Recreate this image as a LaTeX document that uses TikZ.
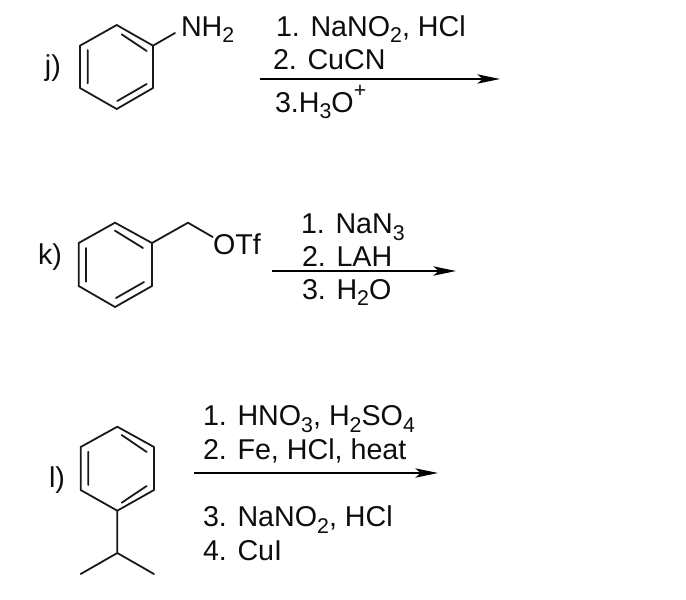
\documentclass[tikz,border=0pt]{standalone}
\usepackage{fontspec}
\setmainfont{Liberation Sans}
\usetikzlibrary{arrows.meta}
\newcommand{\sbs}[1]{\raisebox{-0.23em}{\fontsize{16}{16}\selectfont #1}}
\newcommand{\sps}[1]{\raisebox{0.5em}{\fontsize{16}{16}\selectfont #1}}
\tikzset{
  bond/.style={line width=1.35pt,line cap=round,line join=round,black!90},
  rxn/.style={line width=1.1pt,black,-{Stealth[length=17pt,width=7pt,inset=4pt]},shorten >=0pt},
  chem/.style={anchor=base west,inner sep=0pt,outer sep=0pt,font=\fontsize{21.5}{24}\selectfont,text=black!95}
}
\begin{document}
\begin{tikzpicture}[x=0.75pt,y=-0.75pt]
\useasboundingbox (0,0) rectangle (686,600);
% ring j
\coordinate (j1) at (116.7,25);
\coordinate (j2) at (153,45.7);
\coordinate (j3) at (153,88);
\coordinate (j4) at (116.7,109);
\coordinate (j5) at (80,88);
\coordinate (j6) at (80,45.7);
\coordinate (ja) at (87.7,50);
\coordinate (jb) at (87.7,83.3);
\coordinate (jc) at (121.7,34.3);
\coordinate (jd) at (146.7,51);
\coordinate (je) at (117.3,101);
\coordinate (jf) at (146.7,84);
\coordinate (jn) at (175,33);
\draw[bond] (j1)--(j2)--(j3)--(j4)--(j5)--(j6)--cycle;
\draw[bond] (ja)--(jb) (jc)--(jd) (je)--(jf) (j2)--(jn);
% ring k
\coordinate (k1) at (115,222.7);
\coordinate (k2) at (152,243);
\coordinate (k3) at (152,286);
\coordinate (k4) at (115,307);
\coordinate (k5) at (78.7,286);
\coordinate (k6) at (78.7,243);
\coordinate (ka) at (86,248);
\coordinate (kb) at (86,281.7);
\coordinate (kc) at (115,230.7);
\coordinate (kd) at (143,248);
\coordinate (ke) at (116,298);
\coordinate (kf) at (144,282);
\coordinate (kg) at (188,222.7);
\coordinate (kh) at (212.7,237);
\draw[bond] (k1)--(k2)--(k3)--(k4)--(k5)--(k6)--cycle;
\draw[bond] (ka)--(kb) (kc)--(kd) (ke)--(kf) (k2)--(kg)--(kh);
% ring l
\coordinate (l1) at (117.3,426.7);
\coordinate (l2) at (154,447);
\coordinate (l3) at (154,490);
\coordinate (l4) at (117.3,510.7);
\coordinate (l5) at (80.7,490);
\coordinate (l6) at (80.7,447);
\coordinate (la) at (88.3,451.7);
\coordinate (lb) at (88.3,485);
\coordinate (lc) at (121.7,435);
\coordinate (ld) at (146.7,452);
\coordinate (le) at (121.7,502.7);
\coordinate (lf) at (146.7,486);
\coordinate (lg) at (117.3,553);
\coordinate (lh) at (80.7,574);
\coordinate (li) at (154,574);
\draw[bond] (l1)--(l2)--(l3)--(l4)--(l5)--(l6)--cycle;
\draw[bond] (la)--(lb) (lc)--(ld) (le)--(lf) (l4)--(lg)--(lh) (lg)--(li);
% arrows
\coordinate (as) at (260,79);
\coordinate (ae) at (500,79);
\coordinate (bs) at (272,271);
\coordinate (be) at (456,271);
\coordinate (cs) at (194,473);
\coordinate (ce) at (438,473);
\draw[rxn] (as)--(ae);
\draw[rxn] (bs)--(be);
\draw[rxn] (cs)--(ce);
% labels
\node[chem] (lj) at (45,75) {j)};
\node[chem] (lk) at (38,264) {k)};
\node[chem] (ll) at (49,487) {l)};
\node[chem] (nh) at (181,36) {NH\sbs{2}};
\node[chem] (otf) at (213,254) {OTf};
\node[chem] (r1) at (276,36) {1. NaNO\sbs{2}, HCl};
\node[chem] (r2) at (273,69) {2. CuCN};
\node[chem] (r3) at (275,112) {3.H\sbs{3}O\sps{+}};
\node[chem] (r4) at (301,233.5) {1. NaN\sbs{3}};
\node[chem] (r5) at (302,266) {2. LAH};
\node[chem] (r6) at (302,299) {3. H\sbs{2}O};
\node[chem] (r7) at (203,425.5) {1. HNO\sbs{3}, H\sbs{2}SO\sbs{4}};
\node[chem] (r8) at (203,459.5) {2. Fe, HCl, heat};
\node[chem] (r9) at (203,526.5) {3. NaNO\sbs{2}, HCl};
\node[chem] (r10) at (203,560.5) {4. CuI};
\end{tikzpicture}
\end{document}
